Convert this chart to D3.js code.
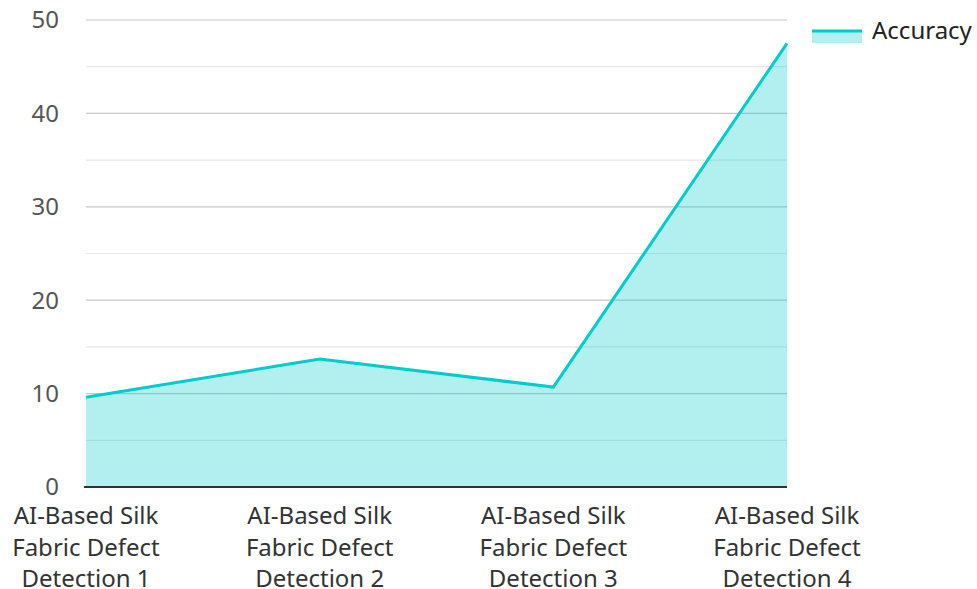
<!DOCTYPE html>
<html>
<head>
<meta charset="utf-8">
<script src="https://cdn.jsdelivr.net/npm/d3@7"></script>
<style>
  html, body { margin: 0; padding: 0; background: #fff; }
  svg { display: block; font-family: "Noto Sans", "Open Sans", sans-serif; }
</style>
</head>
<body>
<svg id="chart" width="977" height="589"></svg>
<script>
// Accuracy per detection approach
const categories = [
  ["AI-Based Silk", "Fabric Defect", "Detection 1"],
  ["AI-Based Silk", "Fabric Defect", "Detection 2"],
  ["AI-Based Silk", "Fabric Defect", "Detection 3"],
  ["AI-Based Silk", "Fabric Defect", "Detection 4"]
];
const accuracy = [9.6, 13.7, 10.7, 47.5];
const yTicks = [0, 10, 20, 30, 40, 50];
const yMinor = [5, 15, 25, 35, 45];
const seriesName = "Accuracy";

const svg = d3.select("#chart");
const plotLeft = 86, plotRight = 787, plotTop = 20, plotBottom = 487;
const fontSize = 24;

const x = d3.scalePoint().domain(d3.range(categories.length)).range([plotLeft, plotRight]).padding(0);
const y = d3.scaleLinear().domain([0, 50]).range([plotBottom, plotTop]);

// gridlines
svg.append("g").selectAll("line").data(yMinor).join("line")
  .attr("x1", plotLeft).attr("x2", plotRight)
  .attr("y1", d => y(d)).attr("y2", d => y(d))
  .attr("stroke", "#e6e6e6").attr("stroke-width", 1.2);
svg.append("g").selectAll("line").data(yTicks.filter(d => d > 0)).join("line")
  .attr("x1", plotLeft).attr("x2", plotRight)
  .attr("y1", d => y(d)).attr("y2", d => y(d))
  .attr("stroke", "#c8c8c8").attr("stroke-width", 1.2);

// area + line
svg.append("path")
  .datum(accuracy)
  .attr("d", d3.area().x((d, i) => x(i)).y0(y(0)).y1(d => y(d)))
  .attr("fill", "#00cccc").attr("fill-opacity", 0.3);
svg.append("path")
  .datum(accuracy)
  .attr("d", d3.line().x((d, i) => x(i)).y(d => y(d)))
  .attr("fill", "none").attr("stroke", "#00cccc").attr("stroke-width", 3)
  .attr("stroke-linejoin", "miter");

// x axis baseline
svg.append("line")
  .attr("x1", plotLeft - 2).attr("x2", plotRight)
  .attr("y1", y(0)).attr("y2", y(0))
  .attr("stroke", "#333").attr("stroke-width", 2);

// y tick labels
svg.append("g").selectAll("text").data(yTicks).join("text")
  .attr("x", 59).attr("y", d => y(d))
  .attr("dy", "0.35em")
  .attr("text-anchor", "end")
  .attr("font-size", fontSize)
  .attr("fill", "#555")
  .text(d => d);

// x category labels
const xl = svg.append("g").selectAll("text").data(categories).join("text")
  .attr("x", (d, i) => x(i))
  .attr("y", 524)
  .attr("text-anchor", "middle")
  .attr("font-size", fontSize)
  .attr("fill", "#333");
xl.selectAll("tspan").data(d => d).join("tspan")
  .attr("x", function () { return d3.select(this.parentNode).attr("x"); })
  .attr("dy", (d, i) => i === 0 ? 0 : 31.5)
  .text(d => d);

// legend
const lg = svg.append("g");
lg.append("rect").attr("x", 812).attr("y", 31).attr("width", 50).attr("height", 12)
  .attr("fill", "#00cccc").attr("fill-opacity", 0.3);
lg.append("line").attr("x1", 812).attr("x2", 862).attr("y1", 31).attr("y2", 31)
  .attr("stroke", "#00cccc").attr("stroke-width", 3);
lg.append("text").attr("x", 872).attr("y", 31).attr("dy", "0.35em")
  .attr("font-size", fontSize).attr("fill", "#222").text(seriesName);
</script>
</body>
</html>
